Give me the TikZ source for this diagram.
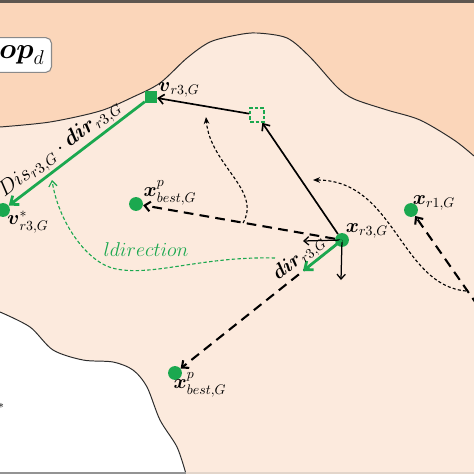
\documentclass[tikz,border=0pt]{standalone}
\usepackage{amsmath,amssymb}
\usepackage{xcolor}
\usepackage{tikz}
\usetikzlibrary{calc,arrows.meta}
\definecolor{peach}{HTML}{FBD6BA}
\definecolor{peachlt}{HTML}{FCEADD}
\definecolor{grn}{HTML}{1BA84F}
\definecolor{edgec}{HTML}{2B2B2B}
\definecolor{barc}{HTML}{5E5750}
\definecolor{boxc}{HTML}{8A8A8A}
\tikzset{gdot/.style={circle,fill=grn,inner sep=0pt,minimum size=10pt},
  gsq/.style={rectangle,fill=grn,inner sep=0pt,minimum size=8.5pt},
  gsqd/.style={rectangle,draw=grn,line width=1.3pt,dash pattern=on 2.5pt off 1.5pt,inner sep=0pt,minimum size=10pt},
  lbl/.style={font=\Large,text=black,inner sep=1pt},
  gvec/.style={grn,line width=2pt,-{Straight Barb[length=5pt,width=8pt]}},
  bvec/.style={black,line width=1.2pt,-{Straight Barb[length=4pt,width=7pt]}},
  bthin/.style={black,line width=0.9pt,-{Straight Barb[length=3.5pt,width=6pt]}},
  bdash/.style={black,line width=1.5pt,dash pattern=on 7pt off 4.5pt,-{Straight Barb[length=4pt,width=7pt]}},
  bdot/.style={black,line width=0.8pt,dash pattern=on 2.2pt off 1.6pt,-{Stealth[length=5pt,width=4pt]}},
  gdash/.style={grn,line width=0.8pt,dash pattern=on 2.5pt off 1.6pt,-{Straight Barb[length=4pt,width=6pt]}}}
\newcommand{\topedge}{(0,127) (50,122) (100,111) (133,97) (160,83) (187,58) (210,42) (237,35) (257,33) (287,38) (310,57) (337,87) (354,99) (387,110) (420,120) (454,140) (474,156)}
\newcommand{\lowedge}{(0,312) (30,327) (53,350) (83,360) (113,362) (133,370) (147,387) (160,420) (177,447) (186,474)}
\begin{document}
\begin{tikzpicture}[x=0.2532mm,y=-0.2532mm]
\useasboundingbox (0,0) rectangle (474,474);
\clip (0,0) rectangle (474,474);
\fill[peach] (0,0) rectangle (474,474);
\fill[peachlt] plot[smooth] coordinates {\topedge} -- (474,474) -- (186,474) -- (0,474) -- cycle;
\fill[white] plot[smooth] coordinates {\lowedge} -- (0,474) -- cycle;
\draw[edgec,line width=0.7pt] plot[smooth] coordinates {\topedge};
\draw[edgec,line width=0.7pt] plot[smooth] coordinates {\lowedge};
\fill[barc] (0,0) rectangle (474,2.5);
\fill[gray!85] (0,471.5) rectangle (186,474);
\fill[peachlt!80!gray] (186,471.5) rectangle (474,474);
\node[draw=boxc,fill=white,rounded corners=4pt,line width=0.8pt,anchor=east,minimum height=25pt,inner xsep=5pt,font=\huge] (pop) at (52,55) {$\boldsymbol{pop}_d$};
\node[font=\footnotesize,inner sep=0pt] (ast) at (1,406) {$*$};
% points
\node[gdot] (xr3) at (342,240) {};
\node[gdot] (xr1) at (411,210) {};
\node[gdot] (xbA) at (136,204) {};
\node[gdot] (xbB) at (175,373) {};
\node[gdot] (vst) at (3,210) {};
\node[gsq] (vr3) at (151,97) {};
\node[gsqd] (vnew) at (257,115) {};
\node[lbl] (xr3l) at (367,231) {$\boldsymbol{x}_{r3,G}$};
\node[lbl] (xr1l) at (434,203) {$\boldsymbol{x}_{r1,G}$};
\node[lbl] (xbAl) at (170,193) {$\boldsymbol{x}^{p}_{best,G}$};
\node[lbl] (xbBl) at (200,385) {$\boldsymbol{x}^{p}_{best,G}$};
\node[lbl] (vstl) at (28,222) {$\boldsymbol{v}^{*}_{r3,G}$};
\node[lbl] (vr3l) at (179,90) {$\boldsymbol{v}_{r3,G}$};
\node[lbl,text=grn] (ldir) at (146,250) {$ldirection$};
\coordinate (kA) at (243,223);
\coordinate (kB) at (466,291);
\coordinate (rin) at (478,306);
\coordinate (gA) at (275,258);
\coordinate (gB) at (112,268);
\coordinate (gC) at (52,180);
\coordinate (ax1) at (303,241);
\coordinate (ax2) at (341,280);
\coordinate (dtip) at (303,271);
% moves
\draw[bdash] (xr3) -- (xbA);
\draw[bdash] (xr3) -- (xbB);
\draw[bdash] (rin) -- (xr1);
\draw[bdot] (kA) .. controls (262,190) and (210,165) .. (206,117);
\draw[bdot] (kB) .. controls (400,285) and (395,180) .. (313,180);
\draw[gdash] (gA) .. controls (200,256) and (150,278) .. (gB) .. controls (85,260) and (58,220) .. (gC);
\draw[bvec] (xr3) -- (vnew);
\draw[bvec] (vnew) -- (vr3);
\draw[gvec] (vr3) -- node[lbl,sloped,above,pos=0.56,scale=1.08] (disl) {$Dis_{r3,G}\cdot\boldsymbol{dir}_{r3,G}$} (vst);
\draw[bthin] (xr3.center) -- (ax1);
\draw[bthin] (xr3.center) -- (ax2);
\draw[gvec] (xr3.center) -- node[lbl,sloped,above,pos=0.9,inner sep=0.5pt] (dirl) {$\boldsymbol{dir}_{r3,G}$} (dtip);
\end{tikzpicture}
\end{document}
